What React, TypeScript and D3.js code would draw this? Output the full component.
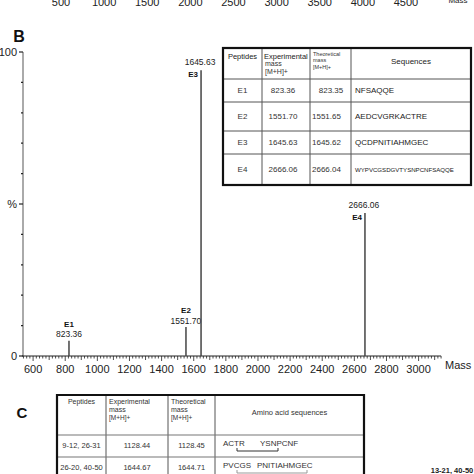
import React from 'react';
import * as d3 from 'd3';

// panel A (only its tick labels peek in at the top)
const topTicks = [500, 1000, 1500, 2000, 2500, 3000, 3500, 4000, 4500];

// panel B spectrum
const peakNames = ['E1', 'E2', 'E3', 'E4'];
const peakMass = [823.36, 1551.7, 1645.63, 2666.06];
const peakIntensity = [5, 9.5, 94, 47];
const massTicks = [600, 800, 1000, 1200, 1400, 1600, 1800, 2000, 2200, 2400, 2600, 2800, 3000];
const intensityTicks = [0, 10, 20, 30, 40, 50, 60, 70, 80, 90, 100];

// panel B table
const tableBExp = ['823.36', '1551.70', '1645.63', '2666.06'];
const tableBTheo = ['823.35', '1551.65', '1645.62', '2666.04'];
const tableBSeq = ['NFSAQQE', 'AEDCVGRKACTRE', 'QCDPNITIAHMGEC', 'WYPVCGSDGVTYSNPCNFSAQQE'];

// panel C table
const tableCPeptides = ['9-12, 26-31', '26-20, 40-50'];
const tableCExp = ['1128.44', '1644.67'];
const tableCTheo = ['1128.45', '1644.71'];
const tableCSeq = [['ACTR', 'YSNPCNF'], ['PVCGS', 'PNITIAHMGEC']];

const FONT = '"Liberation Sans", Arial, sans-serif';
const W = 474;
const H = 474;

export default function App() {
  const xTop = d3.scaleLinear().domain([500, 4500]).range([61, 406]);
  const x = d3.scaleLinear().domain([600, 3000]).range([33.1, 418.6]);
  const y = d3.scaleLinear().domain([0, 100]).range([356, 52]);
  const minorTicks = d3.range(540, 3141, 20);

  // table B geometry
  const bCols = [223, 262, 310, 351, 471];
  const bRows = [48, 79, 102, 131, 154, 185];
  // table C geometry
  const cCols = [57, 106, 168, 215, 364];
  const cRows = [395, 435, 457, 479];

  return (
    <svg width={W} height={H} style={{ position: 'absolute', left: 0, top: 0, background: '#fff' }}
      fontFamily={FONT}>
      <rect width={W} height={H} fill="#fff" />

      {/* cut-off panel A axis labels */}
      {topTicks.map(t => (
        <text key={t} x={xTop(t)} y={6} fontSize={11} textAnchor="middle" fill="#222">{t}</text>
      ))}
      <text x={458} y={3} fontSize={8} textAnchor="middle" fill="#222">Mass</text>

      {/* panel B */}
      <text x={19} y={42} fontSize={16} fontWeight="bold" textAnchor="middle" fill="#111">B</text>

      {/* y axis */}
      <line x1={23} x2={23} y1={y(100)} y2={y(0)} stroke="#aaa" strokeWidth={2} />
      {intensityTicks.map(t => (
        <line key={t} x1={t % 50 === 0 ? 19 : 21} x2={23} y1={y(t)} y2={y(t)} stroke="#222" strokeWidth={1.2} />
      ))}
      <text x={17} y={y(100)} dy="0.35em" fontSize={11} textAnchor="end" fill="#222">100</text>
      <text x={17} y={y(50)} dy="0.35em" fontSize={11} textAnchor="end" fill="#222">%</text>
      <text x={17} y={y(0)} dy="0.35em" fontSize={11} textAnchor="end" fill="#222">0</text>

      {/* x axis */}
      <line x1={22} x2={x(3140)} y1={y(0)} y2={y(0)} stroke="#222" strokeWidth={1.2} />
      {minorTicks.map(t => (
        <line key={t} x1={x(t)} x2={x(t)} y1={y(0)}
          y2={y(0) + (t % 200 === 0 ? 5 : t % 100 === 0 ? 4 : 2.5)} stroke="#222" strokeWidth={0.8} />
      ))}
      {massTicks.map(t => (
        <text key={t} x={x(t)} y={369} dy="0.35em" fontSize={11} textAnchor="middle" fill="#222">{t}</text>
      ))}
      <text x={445} y={365} dy="0.35em" fontSize={11} fill="#222">Mass</text>

      {/* peaks */}
      {peakMass.map((m, i) => {
        const px = x(m);
        const py = y(peakIntensity[i]);
        const big = peakIntensity[i] > 20;
        return (
          <g key={peakNames[i]}>
            <line x1={px} x2={px} y1={py} y2={y(0)} stroke="#444" strokeWidth={1.5} />
            {big ? (
              <>
                <text x={px - 1} y={py - 8} dy="0.35em" fontSize={8.5} textAnchor="middle" fill="#222">{m.toFixed(2)}</text>
                <text x={px - 3} y={py + 4} dy="0.35em" fontSize={8} fontWeight="bold" textAnchor="end" fill="#111">{peakNames[i]}</text>
              </>
            ) : (
              <>
                <text x={px} y={py - 16.5} dy="0.35em" fontSize={8} fontWeight="bold" textAnchor="middle" fill="#111">{peakNames[i]}</text>
                <text x={px} y={py - 6.5} dy="0.35em" fontSize={8.5} textAnchor="middle" fill="#222">{m.toFixed(2)}</text>
              </>
            )}
          </g>
        );
      })}

      {/* table B */}
      <g>
        {bCols.slice(1, -1).map(c => (
          <line key={c} x1={c} x2={c} y1={bRows[0]} y2={bRows[bRows.length - 1]} stroke="#555" strokeWidth={1} />
        ))}
        {bRows.slice(1, -1).map(r => (
          <line key={r} x1={bCols[0]} x2={bCols[bCols.length - 1]} y1={r} y2={r} stroke="#555" strokeWidth={1} />
        ))}
        <rect x={bCols[0]} y={bRows[0]} width={bCols[4] - bCols[0]} height={bRows[5] - bRows[0]}
          fill="none" stroke="#111" strokeWidth={2.2} />
        <text x={(bCols[0] + bCols[1]) / 2} y={56} dy="0.35em" fontSize={7.5} textAnchor="middle" fill="#222">Peptides</text>
        <text x={bCols[1] + 2} y={56} dy="0.35em" fontSize={7.5} fill="#222">Experimental</text>
        <text x={bCols[1] + 3} y={63.5} dy="0.35em" fontSize={7} fill="#333">mass</text>
        <text x={bCols[1] + 3} y={72} dy="0.35em" fontSize={7} fill="#333">[M+H]+</text>
        <text x={bCols[2] + 3} y={54} dy="0.35em" fontSize={5.5} fill="#333">Theoretical</text>
        <text x={bCols[2] + 3} y={60.5} dy="0.35em" fontSize={5.5} fill="#333">mass</text>
        <text x={bCols[2] + 3} y={67} dy="0.35em" fontSize={5.5} fill="#333">[M+H]+</text>
        <text x={(bCols[3] + bCols[4]) / 2} y={61} dy="0.35em" fontSize={8} textAnchor="middle" fill="#222">Sequences</text>
        {peakNames.map((n, i) => {
          const cy = (bRows[i + 1] + bRows[i + 2]) / 2;
          return (
            <g key={n}>
              <text x={(bCols[0] + bCols[1]) / 2} y={cy} dy="0.35em" fontSize={8} textAnchor="middle" fill="#333">{n}</text>
              <text x={283} y={cy} dy="0.35em" fontSize={8} textAnchor="middle" fill="#333">{tableBExp[i]}</text>
              <text x={i === 0 ? 331 : 312} y={cy} dy="0.35em" fontSize={8}
                textAnchor={i === 0 ? 'middle' : 'start'} fill="#333">{tableBTheo[i]}</text>
              <text x={bCols[3] + 4} y={cy} dy="0.35em" fontSize={tableBSeq[i].length > 16 ? 6.1 : 8}
                fill="#222">{tableBSeq[i]}</text>
            </g>
          );
        })}
      </g>

      {/* panel C */}
      <text x={22} y={413} dy="0.35em" fontSize={15} fontWeight="bold" textAnchor="middle" fill="#111">C</text>
      <g>
        {cCols.slice(1, -1).map(c => (
          <line key={c} x1={c} x2={c} y1={cRows[0]} y2={H} stroke="#555" strokeWidth={1} />
        ))}
        {cRows.slice(1, -1).map(r => (
          <line key={r} x1={cCols[0]} x2={cCols[cCols.length - 1]} y1={r} y2={r} stroke="#777" strokeWidth={1.2} />
        ))}
        <path d={`M${cCols[0]},${H + 2}V${cRows[0]}H${cCols[4]}V${H + 2}`} fill="none" stroke="#111" strokeWidth={2.2} />
        <text x={(cCols[0] + cCols[1]) / 2} y={402} dy="0.35em" fontSize={7} textAnchor="middle" fill="#333">Peptides</text>
        <text x={cCols[1] + 3} y={402} dy="0.35em" fontSize={7} fill="#333">Experimental</text>
        <text x={cCols[1] + 3} y={410} dy="0.35em" fontSize={7} fill="#333">mass</text>
        <text x={cCols[1] + 3} y={418} dy="0.35em" fontSize={6.5} fill="#333">[M+H]+</text>
        <text x={cCols[2] + 3} y={402} dy="0.35em" fontSize={7} fill="#333">Theoretical</text>
        <text x={cCols[2] + 3} y={410} dy="0.35em" fontSize={7} fill="#333">mass</text>
        <text x={cCols[2] + 3} y={418} dy="0.35em" fontSize={6.5} fill="#333">[M+H]+</text>
        <text x={(cCols[3] + cCols[4]) / 2} y={412} dy="0.35em" fontSize={7.5} textAnchor="middle" fill="#333">Amino acid sequences</text>
        {tableCPeptides.map((p, i) => {
          const cy = i === 0 ? 445 : 467;
          const [a, b] = tableCSeq[i];
          const bx1 = 237;
          const bx2 = i === 0 ? 278 : 307;
          const by = cy + 6;
          return (
            <g key={p}>
              <text x={(cCols[0] + cCols[1]) / 2} y={cy} dy="0.35em" fontSize={7.5} textAnchor="middle" fill="#333">{p}</text>
              <text x={(cCols[1] + cCols[2]) / 2} y={cy} dy="0.35em" fontSize={7.5} textAnchor="middle" fill="#333">{tableCExp[i]}</text>
              <text x={(cCols[2] + cCols[3]) / 2} y={cy} dy="0.35em" fontSize={7.5} textAnchor="middle" fill="#333">{tableCTheo[i]}</text>
              <text x={223} y={cy - 2} dy="0.35em" fontSize={8} fill="#333">{a}</text>
              <text x={i === 0 ? 260 : 257} y={cy - 2} dy="0.35em" fontSize={8} fill="#333">{b}</text>
              <path d={`M${bx1},${by - 3}V${by}H${bx2}V${by - 3}`} fill="none"
                stroke={i === 0 ? '#333' : '#999'} strokeWidth={1} />
            </g>
          );
        })}
      </g>
      <text x={452} y={470} dy="0.35em" fontSize={7.5} fontWeight="bold" textAnchor="middle" fill="#222">13-21, 40-50</text>
    </svg>
  );
}
